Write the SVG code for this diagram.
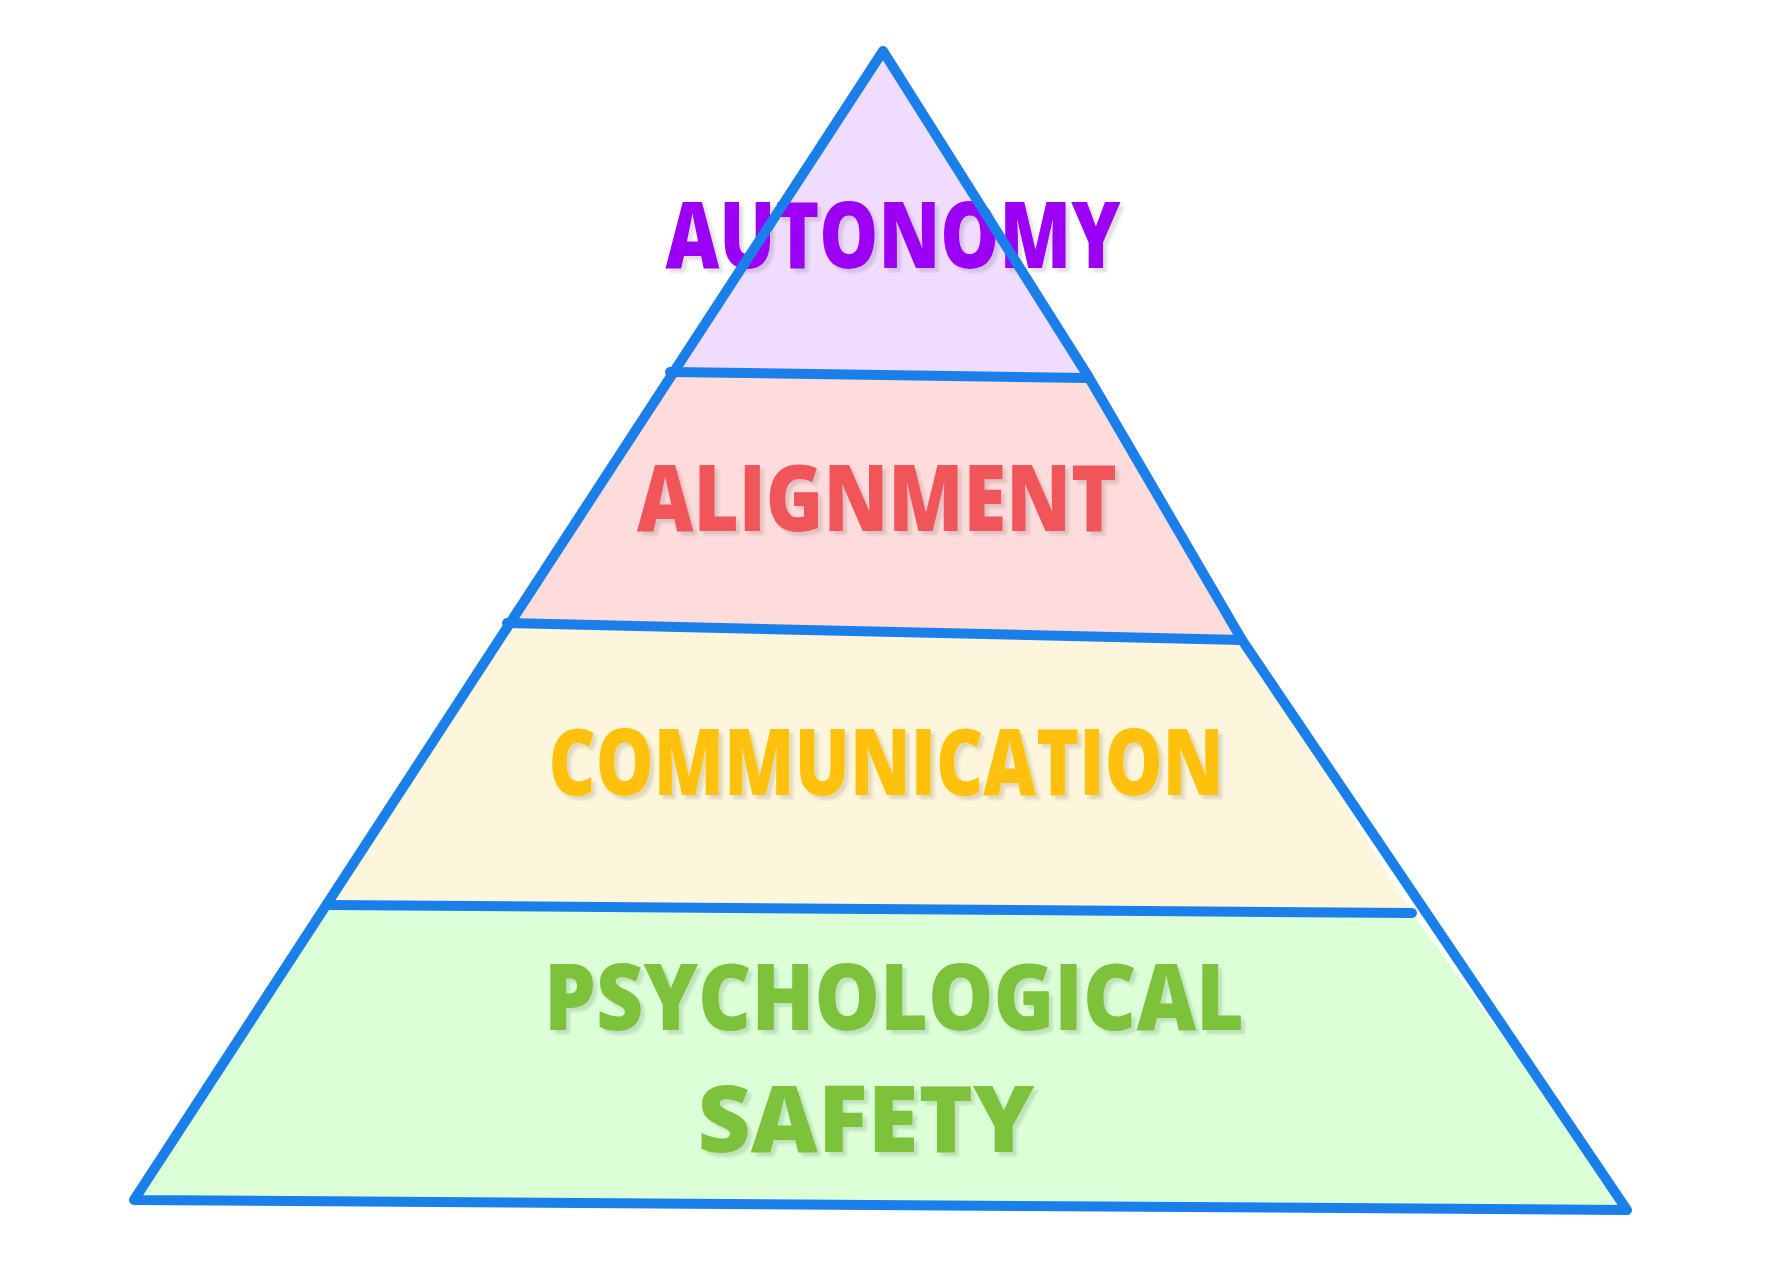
<svg xmlns="http://www.w3.org/2000/svg" width="1766" height="1280" viewBox="0 0 1766 1280">
<defs>
<filter id="sh" x="-10%" y="-20%" width="120%" height="140%">
<feDropShadow dx="4" dy="4" stdDeviation="1.5" flood-color="#000000" flood-opacity="0.12"/>
</filter>
</defs>
<style>
.edge{fill:none;stroke:#1a7fe8;stroke-width:10;stroke-linecap:round;stroke-linejoin:round}
.lbl{font-family:"Open Sans","Liberation Sans",sans-serif;font-weight:800;font-size:92px;text-anchor:middle;filter:url(#sh)}
</style>
<rect width="1766" height="1280" fill="#ffffff"/>
<g id="autonomy">
<polygon points="883,51 1088,376 670,372" fill="#f0dcff"/>
<text class="lbl" x="893" y="268" fill="#9b00f5" textLength="455" lengthAdjust="spacingAndGlyphs">AUTONOMY</text>
</g>
<g id="alignment">
<polygon points="670,372 1088,376 1242,640 507,623" fill="#ffdcdc"/>
<text class="lbl" x="877" y="531" fill="#f0555a" textLength="480" lengthAdjust="spacingAndGlyphs">ALIGNMENT</text>
</g>
<g id="communication">
<polygon points="507,623 1242,640 1412,913 327,905" fill="#fdf6dc"/>
<text class="lbl" x="886" y="795" fill="#ffc107" textLength="675" lengthAdjust="spacingAndGlyphs">COMMUNICATION</text>
</g>
<g id="psychological-safety">
<polygon points="327,905 1412,913 1627,1206 131,1200" fill="#dcffd8"/>
<text class="lbl" x="894" y="1030" fill="#7dc23a" textLength="700" lengthAdjust="spacingAndGlyphs">PSYCHOLOGICAL</text>
<text class="lbl" x="866" y="1152" fill="#7dc23a" textLength="337" lengthAdjust="spacingAndGlyphs">SAFETY</text>
</g>
<g id="connectors">
<path class="edge" d="M883,51 L1088,376 L1242,640 L1627,1210 L134,1200 Z"/>
<path class="edge" d="M670,372 L1088,378"/>
<path class="edge" d="M507,623 L1242,640"/>
<path class="edge" d="M327,905 L1412,913"/>
</g>
</svg>
